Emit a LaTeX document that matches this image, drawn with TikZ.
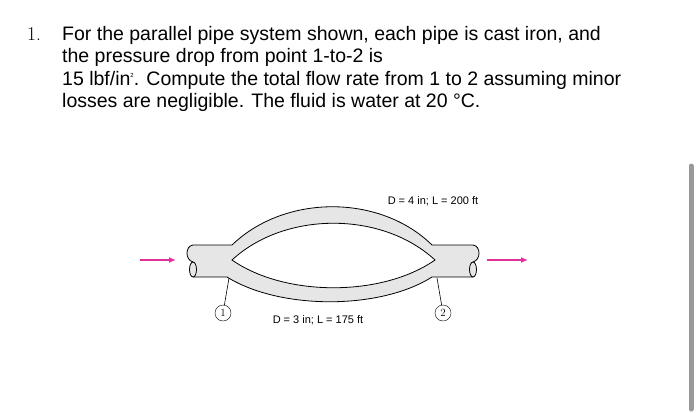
\documentclass[tikz,border=0pt]{standalone}
\usepackage{fontspec}
\setsansfont{Liberation Sans}
\usetikzlibrary{arrows.meta}
\definecolor{flow}{HTML}{E0309A}
\definecolor{pipe}{HTML}{E6E6E6}
\tikzset{
  txt/.style={anchor=base west,inner sep=0pt,font=\sffamily\fontsize{19.5}{22}\selectfont},
  lbl/.style={inner sep=0pt,font=\sffamily\fontsize{11}{13}\selectfont},
  pnt/.style={circle,draw,minimum size=16pt,inner sep=0pt,font=\fontsize{11}{12}\selectfont},
  flowarrow/.style={flow,line width=1.3pt,-{Latex[length=7pt,width=6pt]}},
  pipeline/.style={line width=0.8pt}
}
\begin{document}
\begin{tikzpicture}[x=1pt,y=-1pt]
\useasboundingbox (0,0) rectangle (700,412);
\node[txt,font=\fontsize{19.5}{22}\selectfont] (n) at (27,41) {1.};
\node[txt] (l1) at (62,41) {For the parallel pipe system shown, each pipe is cast iron, and};
\node[txt] (l2) at (62,63) {the pressure drop from point 1-to-2 is};
\node[txt] (l3) at (62,85) {15 lbf/in\raisebox{0.7ex}{\fontsize{6}{6}\selectfont 2}. Compute the total flow rate from 1 to 2 assuming minor};
\node[txt] (l4) at (62,107) {losses are negligible. The fluid is water at 20 °C.};
% pipes
\fill[pipe] (193,245) -- (232,245) .. controls (285,194) and (380,194) .. (432,245) -- (473,245) -- (473,277) -- (432,277)
  .. controls (380,310) and (280,310) .. (227,277) -- (193,277) -- cycle;
\draw[pipeline] (193,245) -- (232,245) .. controls (285,194) and (380,194) .. (432,245) -- (473,245);
\draw[pipeline] (193,277) -- (227,277) .. controls (280,310) and (380,310) .. (432,277) -- (473,277);
\fill[white,draw=black,pipeline] (232,260) .. controls (285,211) and (382,211) .. (435,260) .. controls (382,297) and (285,297) .. cycle;
% pipe ends
\draw[pipeline,fill=pipe] (193,245) .. controls (185,246) and (185,260) .. (193,262);
\draw[pipeline,fill=pipe] (193,269.5) ellipse [x radius=3.5, y radius=7.5];
\draw[pipeline,fill=pipe] (473,245) .. controls (481,246) and (481,260) .. (473,262);
\draw[pipeline,fill=pipe] (473,269.5) ellipse [x radius=3.5, y radius=7.5];
% arrows
\coordinate (a1) at (140,260); \coordinate (a2) at (176,260);
\coordinate (b1) at (487,260); \coordinate (b2) at (528,260);
\draw[flowarrow] (a1) -- (a2);
\draw[flowarrow] (b1) -- (b2);
% points
\node[pnt] (p1) at (223,313) {1};
\node[pnt] (p2) at (443,313) {2};
\coordinate (q1) at (229,278); \coordinate (q2) at (437,278);
\draw[line width=0.6pt] (p1) -- (q1);
\draw[line width=0.6pt] (p2) -- (q2);
\node[lbl] (d1) at (433,201) {D = 4 in; L = 200 ft};
\node[lbl] (d2) at (318,320) {D = 3 in; L = 175 ft};
% scrollbar
\coordinate (s1) at (691,166); \coordinate (s2) at (691,409);
\draw[line width=5pt,color=black!40,line cap=round] (s1) -- (s2);
\end{tikzpicture}
\end{document}
